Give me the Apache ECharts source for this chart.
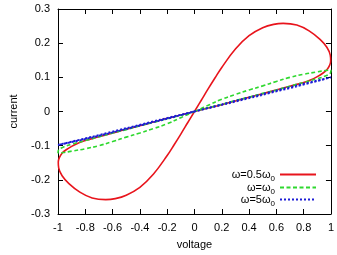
<!DOCTYPE html>
<html>
<head>
<meta charset="utf-8">
<script src="https://cdn.jsdelivr.net/npm/echarts@6/dist/echarts.min.js"></script>
<style>
  html, body { margin: 0; padding: 0; background: #fff; }
  #chart { width: 337px; height: 255px; }
</style>
</head>
<body>
<div id="chart"></div>
<script>
// tick labels
const xTickLabels = ['-1', '-0.8', '-0.6', '-0.4', '-0.2', '0', '0.2', '0.4', '0.6', '0.8', '1'];
const yTickLabels = ['-0.3', '-0.2', '-0.1', '0', '0.1', '0.2', '0.3'];

// legend names (last char is the subscript)
const seriesNames = ['ω=0.5ω0', 'ω=ω0', 'ω=5ω0'];

// curves, [voltage, current] in drawing order
const slowLoop = [
  [0, 0], [0.05, 0.033], [0.1, 0.066], [0.15, 0.098], [0.2, 0.129], [0.3, 0.183], [0.4, 0.222],
  [0.5, 0.245], [0.58, 0.255], [0.65, 0.258], [0.75, 0.253], [0.84, 0.236], [0.92, 0.211],
  [0.97, 0.188], [0.995, 0.165], [0.998, 0.148], [0.99, 0.135], [0.97, 0.122], [0.94, 0.112],
  [0.9, 0.102], [0.85, 0.092], [0.8, 0.085], [0.7, 0.074], [0.6, 0.063], [0.5, 0.052],
  [0.4, 0.042], [0.3, 0.031], [0.2, 0.02], [0.1, 0.01], [0, 0],
  [-0.1, -0.01], [-0.2, -0.02], [-0.3, -0.031], [-0.4, -0.042], [-0.5, -0.052], [-0.6, -0.063],
  [-0.7, -0.074], [-0.8, -0.085], [-0.85, -0.092], [-0.9, -0.102], [-0.94, -0.112],
  [-0.97, -0.122], [-0.99, -0.135], [-0.998, -0.148], [-0.995, -0.165], [-0.97, -0.188],
  [-0.92, -0.211], [-0.84, -0.236], [-0.75, -0.253], [-0.65, -0.258], [-0.58, -0.255],
  [-0.5, -0.245], [-0.4, -0.222], [-0.3, -0.183], [-0.2, -0.129], [-0.15, -0.098],
  [-0.1, -0.066], [-0.05, -0.033], [0, 0]
];
const midLoop = [
  [0, 0], [0.1, 0.018], [0.2, 0.036], [0.3, 0.05], [0.4, 0.063], [0.5, 0.075], [0.6, 0.088],
  [0.7, 0.1], [0.8, 0.109], [0.9, 0.116], [0.96, 0.12], [1.0, 0.121], [0.995, 0.112],
  [0.96, 0.104], [0.9, 0.096], [0.8, 0.085], [0.7, 0.074], [0.6, 0.063], [0.5, 0.053],
  [0.4, 0.042], [0.3, 0.032], [0.2, 0.021], [0.1, 0.011], [0, 0],
  [-0.1, -0.011], [-0.2, -0.021], [-0.3, -0.032], [-0.4, -0.042], [-0.5, -0.053], [-0.6, -0.063],
  [-0.7, -0.074], [-0.8, -0.085], [-0.9, -0.096], [-0.96, -0.104], [-0.995, -0.112], [-1.0, -0.121],
  [-0.96, -0.12], [-0.9, -0.116], [-0.8, -0.109], [-0.7, -0.1], [-0.6, -0.088], [-0.5, -0.075],
  [-0.4, -0.063], [-0.3, -0.05], [-0.2, -0.036], [-0.1, -0.018], [0, 0]
];
const fastLoop = [
  [0, 0], [0.25, 0.026], [0.5, 0.051], [0.75, 0.076], [1.0, 0.1], [0.75, 0.074], [0.5, 0.049],
  [0.25, 0.024], [0, 0], [-0.25, -0.024], [-0.5, -0.049], [-0.75, -0.074], [-1.0, -0.098],
  [-0.75, -0.076], [-0.5, -0.051], [-0.25, -0.026], [0, 0]
];

const font = 'Liberation Sans, Arial, Helvetica, sans-serif';
const xStep = 0.2, yStep = 0.1;

function axisBase(labels, step, show) {
  return {
    type: 'value',
    min: Number(labels[0]),
    max: Number(labels[labels.length - 1]),
    interval: step,
    axisLine: { show: true, onZero: false, lineStyle: { color: '#000', width: 1 } },
    axisTick: { show: true, inside: true, length: 5, lineStyle: { color: '#000' } },
    splitLine: { show: false },
    axisLabel: {
      show: show,
      color: '#000',
      fontSize: 11,
      fontFamily: font,
      formatter: v => labels[Math.round((v - Number(labels[0])) / step)]
    }
  };
}

const chart = echarts.init(document.getElementById('chart'));

function legendFor(i, top) {
  return {
    data: [seriesNames[i]],
    top: top,
    right: 20,
    padding: 0,
    align: 'right',
    itemWidth: 36,
    itemHeight: 8,
    selectedMode: false,
    itemStyle: { color: 'rgba(0,0,0,0)', borderWidth: 0 },
    formatter: n => '{a|' + n.slice(0, -1) + '}{s|' + n.slice(-1) + '}',
    textStyle: {
      rich: {
        a: { fontSize: 11, fontFamily: font, color: '#000', lineHeight: 16 },
        s: { fontSize: 8, fontFamily: font, color: '#000', verticalAlign: 'bottom' }
      }
    }
  };
}

chart.setOption({
  animation: false,
  grid: { left: 53, right: 5, top: 9, bottom: 41 },
  xAxis: [
    Object.assign(axisBase(xTickLabels, xStep, true), {
      position: 'bottom',
      name: 'voltage', nameLocation: 'middle', nameGap: 25,
      nameTextStyle: { color: '#000', fontSize: 11, fontFamily: font }
    }),
    Object.assign(axisBase(xTickLabels, xStep, false), { position: 'top' })
  ],
  yAxis: [
    Object.assign(axisBase(yTickLabels, yStep, true), {
      position: 'left',
      axisLabel: Object.assign(axisBase(yTickLabels, yStep, true).axisLabel, { margin: 8 }),
      name: 'current', nameLocation: 'middle', nameGap: 39, nameRotate: 90,
      nameTextStyle: { color: '#000', fontSize: 11, fontFamily: font }
    }),
    Object.assign(axisBase(yTickLabels, yStep, false), { position: 'right' })
  ],
  legend: [legendFor(0, 169), legendFor(1, 182), legendFor(2, 194)],
  series: [
    {
      name: seriesNames[0], type: 'line', data: slowLoop, symbol: 'none', smooth: 0.4,
      lineStyle: { color: '#e8141c', width: 1.6, type: 'solid' }, itemStyle: { color: '#e8141c' }
    },
    {
      name: seriesNames[1], type: 'line', data: midLoop, symbol: 'none', smooth: 0.4,
      lineStyle: { color: '#2ed82e', width: 1.6, type: [4, 2.5] }, itemStyle: { color: '#2ed82e' }
    },
    {
      name: seriesNames[2], type: 'line', data: fastLoop, symbol: 'none', smooth: 0.3,
      lineStyle: { color: '#1c1cd6', width: 2, type: [2, 2] }, itemStyle: { color: '#1c1cd6' }
    }
  ]
});
</script>
</body>
</html>
